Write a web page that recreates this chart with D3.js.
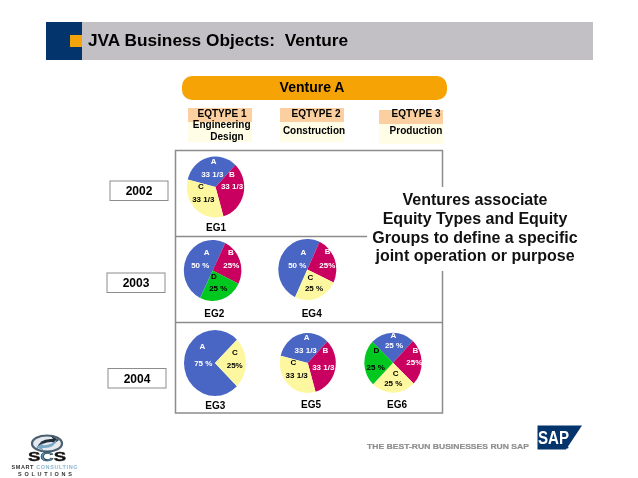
<!DOCTYPE html>
<html>
<head>
<meta charset="utf-8">
<script src="https://cdn.jsdelivr.net/npm/d3@7"></script>
<style>
  html, body { margin: 0; padding: 0; background: #fff; }
  svg { display: block; filter: blur(0.35px); }
  text { font-family: "Liberation Sans", Arial, sans-serif; font-weight: bold; text-anchor: middle; dominant-baseline: central; }
</style>
</head>
<body>
<div id="chart"></div>
<script>
// chart data
const years = ['2002', '2003', '2004'];
const eqTypes = ['EQTYPE 1', 'EQTYPE 2', 'EQTYPE 3'];
const eqTypeNames = [['Engineering', 'Design'], ['Construction'], ['Production']];
const calloutLines = ['Ventures associate', 'Equity Types and Equity', 'Groups to define a specific', 'joint operation or purpose'];

const groupNames = ['EG1', 'EG2', 'EG4', 'EG3', 'EG5', 'EG6'];
const groupSlices = [['A', 'B', 'C'], ['A', 'B', 'D'], ['A', 'B', 'C'], ['A', 'C'], ['A', 'B', 'C'], ['A', 'B', 'C', 'D']];
const groupValues = [[33.33, 33.33, 33.33], [50, 25, 25], [50, 25, 25], [75, 25], [33.33, 33.33, 33.33], [25, 25, 25, 25]];
const groupLabels = [
  ['33 1/3', '33 1/3', '33 1/3'],
  ['50 %', '25%', '25 %'],
  ['50 %', '25%', '25 %'],
  ['75 %', '25%'],
  ['33 1/3', '33 1/3', '33 1/3'],
  ['25 %', '25%', '25 %', '25 %']
];

// layout, one entry per group: centre, radii, rotation of first slice in degrees, caption
const pieLayout = [
  {cx: 215.5, cy: 187, r: 28.7, ry: 30.5, start: -76, caption: [216, 227.7]},
  {cx: 212.7, cy: 270.5, r: 28.7, ry: 30.5, start: 206, caption: [214.3, 313.3]},
  {cx: 307.3, cy: 269.5, r: 29, ry: 30.5, start: 205, caption: [311.7, 313.3]},
  {cx: 215, cy: 363, r: 31, ry: 33, start: 135, caption: [215.3, 405]},
  {cx: 307.8, cy: 363, r: 28, ry: 30, start: -76, caption: [311, 404]},
  {cx: 393, cy: 362.7, r: 28.7, ry: 30, start: -46, caption: [397, 404]}
];
// label positions, per slice: [name x, name y, value x, value y]
const labelSpots = [
  [[213.7, 161.7, 212.3, 174.3], [232, 174.3, 232, 186.3], [201, 186.3, 203.3, 199.3]],
  [[206.7, 252.3, 200.3, 265.7], [231, 252.3, 231.3, 265.7], [214, 276.7, 218.3, 288.7]],
  [[303.3, 252.3, 297.3, 265.7], [327.7, 251.7, 327.3, 265.7], [310.3, 277, 314, 288.7]],
  [[202.3, 346.3, 203.3, 363], [235, 352.7, 234.7, 365]],
  [[306.7, 337.3, 305.7, 350], [325.3, 350, 323.3, 367.7], [293.3, 362.3, 296.7, 375]],
  [[393.3, 335.8, 394, 345.5], [415.3, 350, 414.3, 362.3], [395.7, 373.3, 393.3, 383], [376.3, 350, 375.7, 367.7]]
];

const sliceColor = {A: '#4a66c4', B: '#c9005f', C: '#fdf8a0', D: '#00c81e'};
const labelColor = {A: '#fff', B: '#fff', C: '#000', D: '#000'};

const svg = d3.select('#chart').append('svg')
    .attr('width', 638)
    .attr('height', 478);

svg.append('rect').attr('width', 638).attr('height', 478).attr('fill', '#fff');

// Title band
svg.append('rect').attr('x', 46).attr('y', 22).attr('width', 547).attr('height', 38).attr('fill', '#c2c0c4');
svg.append('rect').attr('x', 46).attr('y', 22).attr('width', 36).attr('height', 38).attr('fill', '#04346c');
svg.append('rect').attr('x', 70).attr('y', 35).attr('width', 12).attr('height', 12).attr('fill', '#f5a30a');
svg.append('text').attr('x', 88).attr('y', 39.5).attr('font-size', 16.5)
    .style('text-anchor', 'start').attr('fill', '#000').attr('xml:space', 'preserve')
    .attr('textLength', 260).attr('lengthAdjust', 'spacingAndGlyphs')
    .text('JVA Business Objects:  Venture');

// Venture header
svg.append('rect').attr('x', 182).attr('y', 76).attr('width', 265).attr('height', 24).attr('rx', 10)
    .attr('fill', '#f5a305');
svg.append('text').attr('x', 312).attr('y', 87).attr('font-size', 14).text('Venture A');

// Equity type columns
const typeBoxes = [
  {x: 188, y: 108, w: 64, title: 222, nameX: [221.7, 227], nameY: [124.7, 136]},
  {x: 280, y: 108, w: 64, title: 316, nameX: [314], nameY: [130]},
  {x: 379, y: 110, w: 64, title: 416, nameX: [416], nameY: [130]}
];
const typeGroup = svg.append('g').selectAll('g').data(typeBoxes).join('g');
typeGroup.append('rect')
    .attr('x', d => d.x).attr('y', d => d.y + 10).attr('width', d => d.w).attr('height', 24)
    .attr('fill', '#fffde6');
typeGroup.append('rect')
    .attr('x', d => d.x).attr('y', d => d.y).attr('width', d => d.w).attr('height', 14)
    .attr('fill', '#fbcf9f');
typeGroup.append('text')
    .attr('x', d => d.title).attr('y', 113.5).attr('font-size', 10)
    .text((d, i) => eqTypes[i]);
typeGroup.each(function(d, i) {
  d3.select(this).selectAll('.type-name').data(eqTypeNames[i]).join('text')
      .attr('class', 'type-name')
      .attr('x', (t, j) => d.nameX[j]).attr('y', (t, j) => d.nameY[j])
      .attr('font-size', 10)
      .text(t => t);
});

// Grid
const gridColor = '#8c8c8c';
svg.append('rect').attr('x', 175.5).attr('y', 150.5).attr('width', 267).attr('height', 262.5)
    .attr('fill', 'none').attr('stroke', gridColor).attr('stroke-width', 1.5);
[236.5, 322.5].forEach(y => {
  svg.append('line').attr('x1', 175.5).attr('x2', 442.5).attr('y1', y).attr('y2', y)
      .attr('stroke', gridColor).attr('stroke-width', 1.5);
});

// Callout covers the grid lines behind it
svg.append('rect').attr('x', 367).attr('y', 187).attr('width', 215).attr('height', 84).attr('fill', '#fff');
svg.selectAll('.callout').data(calloutLines).join('text')
    .attr('class', 'callout')
    .attr('x', 475)
    .attr('y', (d, i) => [199, 218, 237, 255][i])
    .attr('font-size', 16)
    .attr('fill', '#111')
    .text(d => d);

// Year boxes
const yearBoxes = [[110, 181], [107, 273], [108, 368.5]];
svg.selectAll('.year').data(years).join('g')
    .attr('class', 'year')
    .attr('transform', (d, i) => `translate(${yearBoxes[i][0]},${yearBoxes[i][1]})`)
    .call(g => g.append('rect').attr('width', 58).attr('height', 19.5)
        .attr('fill', '#fff').attr('stroke', '#8c8c8c').attr('stroke-width', 1))
    .call(g => g.append('text').attr('x', 29).attr('y', 10).attr('font-size', 12).text(d => d));

// Pies
const arc = d3.arc().innerRadius(0);

groupNames.forEach((name, i) => {
  const layout = pieLayout[i];
  const start = layout.start * Math.PI / 180;
  const pie = d3.pie().sort(null).startAngle(start).endAngle(start + 2 * Math.PI);
  const slices = groupSlices[i];

  // the pies in the slide are slightly taller than wide
  svg.append('g')
      .attr('transform', `translate(${layout.cx},${layout.cy}) scale(1,${layout.ry / layout.r})`)
    .selectAll('path')
    .data(pie(groupValues[i]))
    .join('path')
      .attr('d', d => arc.outerRadius(layout.r)(d))
      .attr('fill', (d, j) => sliceColor[slices[j]]);

  slices.forEach((s, j) => {
    const spot = labelSpots[i][j];
    svg.append('text').attr('x', spot[0]).attr('y', spot[1]).attr('font-size', 8)
        .attr('fill', labelColor[s]).text(s);
    svg.append('text').attr('x', spot[2]).attr('y', spot[3]).attr('font-size', 8)
        .attr('fill', labelColor[s]).text(groupLabels[i][j]);
  });

  svg.append('text').attr('x', layout.caption[0]).attr('y', layout.caption[1])
      .attr('font-size', 10).text(name);
});

// SCS logo
const scs = svg.append('g');
scs.append('ellipse').attr('cx', 47).attr('cy', 443.5).attr('rx', 15).attr('ry', 8)
    .attr('fill', '#e4eaef').attr('stroke', '#4c5f70').attr('stroke-width', 2.2);
scs.append('path').attr('d', 'M37 449 Q39 438 53 439 L51 436 L59 440 L52 445 L53 442 Q43 441 37 449Z').attr('fill', '#22303c');
scs.append('path').attr('d', 'M57 439 Q55 449 42 448 L44 451 L36 447 L43 443 L42 445 Q51 446 57 439Z').attr('fill', '#7ba7c4');
scs.append('text').attr('x', 47).attr('y', 456).attr('font-size', 13)
    .attr('textLength', 38).attr('lengthAdjust', 'spacingAndGlyphs')
    .attr('stroke', '#111').attr('stroke-width', 0.4)
    .call(t => t.append('tspan').attr('fill', '#111').text('S'))
    .call(t => t.append('tspan').attr('fill', '#4f93bd').text('C'))
    .call(t => t.append('tspan').attr('fill', '#111').text('S'));
scs.append('text').attr('x', 44.5).attr('y', 466.5).attr('font-size', 5.5)
    .attr('textLength', 66).attr('lengthAdjust', 'spacing')
    .call(t => t.append('tspan').attr('fill', '#333').text('SMART '))
    .call(t => t.append('tspan').attr('fill', '#8db8d2').text('CONSULTING'));
scs.append('text').attr('x', 45).attr('y', 473.5).attr('font-size', 5.5).attr('fill', '#333')
    .attr('textLength', 54).attr('lengthAdjust', 'spacing').text('SOLUTIONS');

// SAP signature
svg.append('text').attr('x', 448).attr('y', 446).attr('font-size', 7.5).attr('fill', '#8e8e8e')
    .attr('textLength', 162).attr('lengthAdjust', 'spacingAndGlyphs')
    .attr('stroke', '#8e8e8e').attr('stroke-width', 0.2)
    .text('THE BEST-RUN BUSINESSES RUN SAP');
svg.append('path').attr('d', 'M537.5 425.5H582L566 449.5H537.5Z').attr('fill', '#04346c');
svg.append('circle').attr('cx', 567.5).attr('cy', 447.5).attr('r', 1).attr('fill', '#04346c');
svg.append('text').attr('x', 553.5).attr('y', 437.5).attr('font-size', 19)
    .attr('fill', '#fff').attr('textLength', 31).attr('lengthAdjust', 'spacingAndGlyphs').text('SAP');
</script>
</body>
</html>
